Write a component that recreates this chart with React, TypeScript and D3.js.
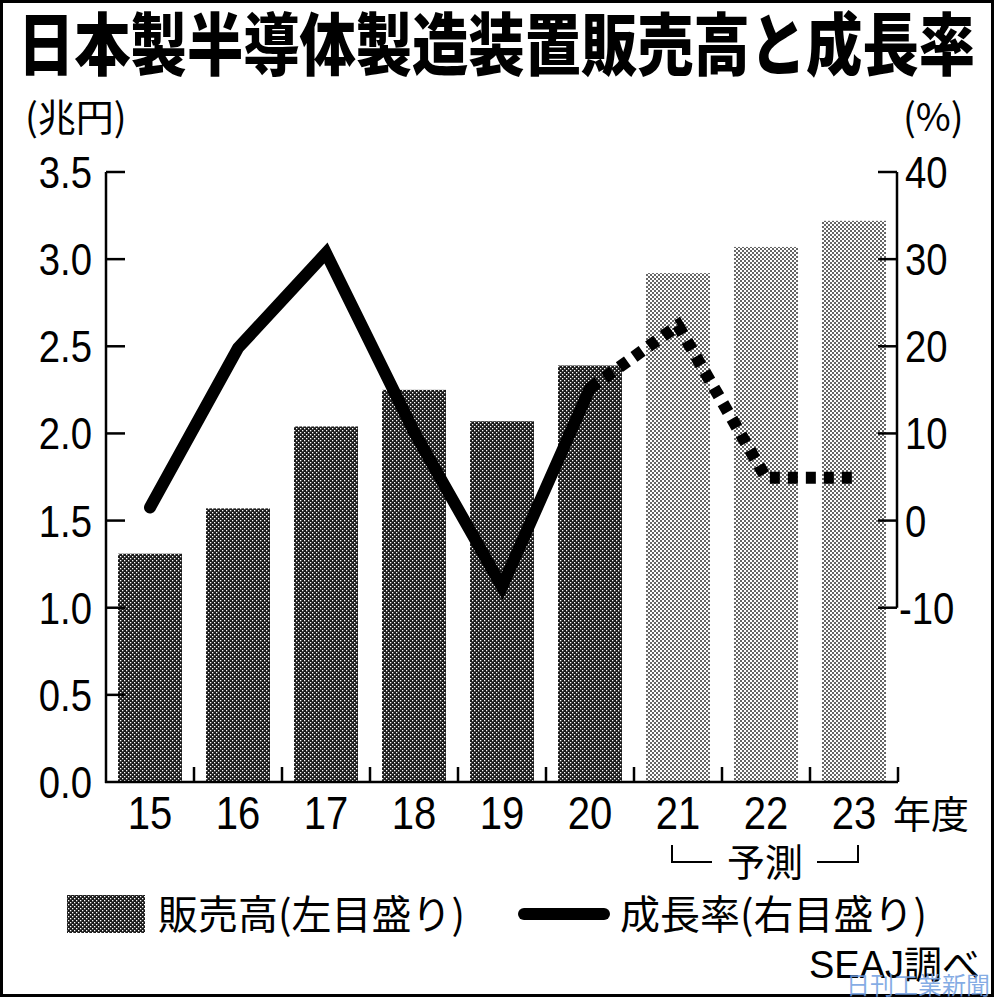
import React from "react";
import * as d3 from "d3";

// fiscal years (年度), sales in 兆円, growth in %
const years = ["15", "16", "17", "18", "19", "20", "21", "22", "23"];
const sales = [1.31, 1.57, 2.04, 2.25, 2.07, 2.39, 2.92, 3.07, 3.22];
const growth = [1.5, 19.8, 30.7, 10.2, -7.6, 15.2, 22.4, 4.9, 4.9];
const forecastYears = ["21", "22", "23"];
const leftTicks = [0, 0.5, 1, 1.5, 2, 2.5, 3, 3.5];
const rightTicks = [-10, 0, 10, 20, 30, 40];

const W = 1000;
const H = 1000;
const NUM = "'Liberation Sans', Arial, sans-serif";
const JP = "'Noto Sans CJK JP', 'Noto Sans', sans-serif";

export default function App() {
  const x = d3.scaleBand<string>().domain(years).range([106, 898]).paddingInner(0.273).paddingOuter(0.1365);
  const yL = d3.scaleLinear().domain([0, 3.5]).range([782, 172]);
  const yR = d3.scaleLinear().domain([-30, 40]).range([782, 172]);
  const cx = (d: string) => (x(d) as number) + x.bandwidth() / 2;

  const pts = years.map((d, i) => ({ d, v: growth[i] }));
  const firstFc = years.indexOf(forecastYears[0]);
  const line = d3
    .line<{ d: string; v: number }>()
    .x((p) => cx(p.d))
    .y((p) => yR(p.v));
  const solid = line(pts.slice(0, firstFc)) || "";
  const dotted = line(pts.slice(firstFc - 1)) || "";

  const bounds = years.map((_, i) => 106 + x.step() * (i + 1));

  return (
    <svg width={W} height={H} style={{ position: "absolute", left: 0, top: 0, background: "#fff" }}>
      <defs>
        <pattern id="dark" width="4" height="4" patternUnits="userSpaceOnUse">
          <rect width="4" height="4" fill="#1a1a1a" />
          <rect x="0" y="0" width="1.3" height="1.3" fill="#fff" />
          <rect x="2" y="2" width="1.3" height="1.3" fill="#fff" />
        </pattern>
        <pattern id="light" width="4" height="4" patternUnits="userSpaceOnUse">
          <rect width="4" height="4" fill="#fff" />
          <rect x="0" y="0" width="2" height="2" fill="#666" />
          <rect x="2" y="2" width="2" height="2" fill="#666" />
        </pattern>
      </defs>
      <rect x={0} y={0} width={W} height={H} fill="#fff" />
      <rect x={1.5} y={1.5} width={991} height={994} fill="none" stroke="#000" strokeWidth={3} />

      {/* title */}
      <text x={18} y={70} fontFamily={JP} fontWeight={900} fontSize={68} textLength={957} lengthAdjust="spacingAndGlyphs">
        日本製半導体製造装置販売高と成長率
      </text>

      <text x={25} y={131} fontFamily={JP} fontSize={38}>(兆円)</text>
      <text x={903} y={131} fontFamily={JP} fontSize={38}>(%)</text>

      {/* bars */}
      {years.map((d, i) => (
        <rect
          key={d}
          x={x(d)}
          y={yL(sales[i])}
          width={x.bandwidth()}
          height={yL(0) - yL(sales[i])}
          fill={forecastYears.includes(d) ? "url(#light)" : "url(#dark)"}
        />
      ))}

      {/* axes */}
      <g stroke="#000" strokeWidth={2.5} fill="none">
        <line x1={106} x2={106} y1={172} y2={783} />
        <line x1={105} x2={898} y1={782} y2={782} />
        <line x1={897} x2={897} y1={172} y2={yR(-10)} />
        {leftTicks.slice(1).map((t) => (
          <line key={t} x1={106} x2={125} y1={yL(t)} y2={yL(t)} />
        ))}
        {rightTicks.map((t) => (
          <line key={t} x1={878} x2={897} y1={yR(t)} y2={yR(t)} />
        ))}
        {bounds.map((b) => (
          <line key={b} x1={b} x2={b} y1={782} y2={767} />
        ))}
      </g>

      {leftTicks.map((t) => (
        <text key={t} transform={`translate(92,${yL(t) + 16}) scale(0.87,1)`} textAnchor="end" fontFamily={NUM} fontSize={44}>
          {t.toFixed(1)}
        </text>
      ))}
      {rightTicks.map((t) => (
        <text key={t} transform={`translate(${t < 0 ? 899 : 905},${yR(t) + 16}) scale(0.87,1)`} fontFamily={NUM} fontSize={44}>
          {t}
        </text>
      ))}

      {years.map((d) => (
        <text key={d} transform={`translate(${cx(d)},829) scale(0.87,1)`} textAnchor="middle" fontFamily={NUM} fontSize={46}>
          {d}
        </text>
      ))}
      <text x={893} y={828} fontFamily={JP} fontSize={38}>年度</text>

      {/* forecast bracket */}
      <path d="M672,845V862H712M817,862H858V845" stroke="#000" strokeWidth={2} fill="none" />
      <text x={765} y={876} textAnchor="middle" fontFamily={JP} fontSize={38}>予測</text>

      {/* growth line */}
      <path d={solid} fill="none" stroke="#000" strokeWidth={12} strokeLinecap="round" strokeLinejoin="miter" />
      <path d={dotted} fill="none" stroke="#000" strokeWidth={12} strokeDasharray="10,8" strokeLinejoin="miter" />

      {/* legend */}
      <rect x={67} y={895} width={78} height={38} fill="url(#dark)" />
      <text x={158} y={929} fontFamily={JP} fontSize={40}>販売高(左目盛り)</text>
      <line x1={524} x2={604} y1={914} y2={914} stroke="#000" strokeWidth={12} strokeLinecap="round" />
      <text x={620} y={929} fontFamily={JP} fontSize={40}>成長率(右目盛り)</text>

      <text x={980} y={978} textAnchor="end" fontFamily={`${NUM}, ${JP}`} fontSize={38}>SEAJ調べ</text>
      <text x={990} y={994} textAnchor="end" fontFamily={JP} fontSize={24} fill="#6f9de0" fillOpacity={0.85}>日刊工業新聞</text>
    </svg>
  );
}
